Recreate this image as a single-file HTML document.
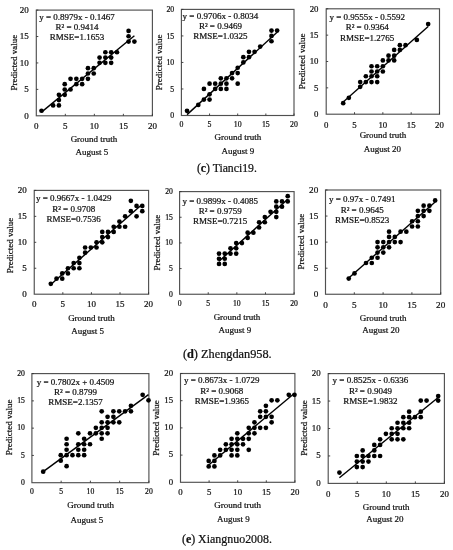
<!DOCTYPE html>
<html><head><meta charset="utf-8"><title>Figure</title>
<style>html,body{margin:0;padding:0;background:#fff}svg{display:block}text{font-family:"Liberation Serif","DejaVu Serif",serif;fill:#111;stroke:#111;stroke-width:.22px}.t{font-size:9px}.e{font-size:9px}.g{font-size:9px}.a{font-size:9px}.c{font-size:12px;fill:#111}.b{font-weight:bold}</style></head><body>
<svg width="453" height="550" viewBox="0 0 453 550">
<rect width="453" height="550" fill="#fff"/>
<g>
<rect x="36.30" y="10.10" width="116.10" height="105.70" fill="none" stroke="#505050" stroke-width="1.15"/>
<path d="M65.33 115.80v-2M36.30 89.38h2M94.35 115.80v-2M36.30 62.95h2M123.38 115.80v-2M36.30 36.52h2M152.40 115.80v-2M36.30 10.10h2" stroke="#333" stroke-width="0.9" fill="none"/>
<text font-size="9" x="28.77" y="118.61" text-anchor="end">0</text><text font-size="9" x="36.30" y="129.22" text-anchor="middle">0</text>
<text font-size="9" x="28.77" y="92.19" text-anchor="end">5</text><text font-size="9" x="65.33" y="129.22" text-anchor="middle">5</text>
<text font-size="9" x="28.77" y="65.76" text-anchor="end">10</text><text font-size="9" x="94.35" y="129.22" text-anchor="middle">10</text>
<text font-size="9" x="28.77" y="39.34" text-anchor="end">15</text><text font-size="9" x="123.38" y="129.22" text-anchor="middle">15</text>
<text font-size="9" x="28.77" y="12.91" text-anchor="end">20</text><text font-size="9" x="152.40" y="129.22" text-anchor="middle">20</text>
<line x1="41.50" y1="112.10" x2="134.39" y2="35.73" stroke="#000" stroke-width="1.4"/>
<g fill="#000"><circle cx="41.50" cy="110.77" r="2.35"/><circle cx="53.12" cy="105.45" r="2.35"/><circle cx="58.92" cy="105.45" r="2.35"/><circle cx="58.92" cy="100.12" r="2.35"/><circle cx="58.92" cy="94.80" r="2.35"/><circle cx="64.73" cy="94.80" r="2.35"/><circle cx="64.73" cy="89.48" r="2.35"/><circle cx="64.73" cy="84.16" r="2.35"/><circle cx="70.53" cy="89.48" r="2.35"/><circle cx="70.53" cy="78.84" r="2.35"/><circle cx="76.34" cy="84.16" r="2.35"/><circle cx="76.34" cy="78.84" r="2.35"/><circle cx="82.14" cy="84.16" r="2.35"/><circle cx="82.14" cy="78.84" r="2.35"/><circle cx="87.95" cy="78.84" r="2.35"/><circle cx="87.95" cy="73.51" r="2.35"/><circle cx="87.95" cy="68.19" r="2.35"/><circle cx="93.75" cy="73.51" r="2.35"/><circle cx="93.75" cy="68.19" r="2.35"/><circle cx="99.56" cy="62.87" r="2.35"/><circle cx="99.56" cy="57.55" r="2.35"/><circle cx="105.36" cy="62.87" r="2.35"/><circle cx="105.36" cy="57.55" r="2.35"/><circle cx="105.36" cy="52.23" r="2.35"/><circle cx="111.17" cy="62.87" r="2.35"/><circle cx="111.17" cy="57.55" r="2.35"/><circle cx="111.17" cy="52.23" r="2.35"/><circle cx="116.97" cy="52.23" r="2.35"/><circle cx="128.58" cy="41.58" r="2.35"/><circle cx="128.58" cy="36.26" r="2.35"/><circle cx="128.58" cy="30.94" r="2.35"/><circle cx="134.39" cy="41.58" r="2.35"/></g>
<text class="e" x="77.00" y="19.70" text-anchor="middle">y = 0.8979x - 0.1467</text><text class="e" x="77.00" y="30.20" text-anchor="middle">R² = 0.9414</text><text class="e" x="77.00" y="40.10" text-anchor="middle">RMSE=1.1653</text>
<text class="g" x="94.00" y="142.30" text-anchor="middle">Ground truth</text><text class="a" x="91.90" y="155.20" text-anchor="middle">August 5</text>
<text class="e" transform="translate(17.00 62.70) rotate(-90)" text-anchor="middle">Predicted value</text>
</g>
<g>
<rect x="181.40" y="9.40" width="112.60" height="106.10" fill="none" stroke="#505050" stroke-width="1.15"/>
<path d="M209.55 115.50v-2M181.40 88.97h2M237.70 115.50v-2M181.40 62.45h2M265.85 115.50v-2M181.40 35.93h2M294.00 115.50v-2M181.40 9.40h2" stroke="#333" stroke-width="0.9" fill="none"/>
<text font-size="7.8" x="174.23" y="118.11" text-anchor="end">0</text><text font-size="7.8" x="181.40" y="127.41" text-anchor="middle">0</text>
<text font-size="7.8" x="174.23" y="91.59" text-anchor="end">5</text><text font-size="7.8" x="209.55" y="127.41" text-anchor="middle">5</text>
<text font-size="7.8" x="174.23" y="65.06" text-anchor="end">10</text><text font-size="7.8" x="237.70" y="127.41" text-anchor="middle">10</text>
<text font-size="7.8" x="174.23" y="38.54" text-anchor="end">15</text><text font-size="7.8" x="265.85" y="127.41" text-anchor="middle">15</text>
<text font-size="7.8" x="174.23" y="12.01" text-anchor="end">20</text><text font-size="7.8" x="294.00" y="127.41" text-anchor="middle">20</text>
<line x1="187.03" y1="114.61" x2="277.11" y2="32.21" stroke="#000" stroke-width="1.4"/>
<g fill="#000"><circle cx="187.03" cy="110.83" r="2.35"/><circle cx="198.29" cy="104.89" r="2.35"/><circle cx="203.92" cy="99.59" r="2.35"/><circle cx="203.92" cy="88.97" r="2.35"/><circle cx="209.55" cy="99.59" r="2.35"/><circle cx="209.55" cy="94.28" r="2.35"/><circle cx="209.55" cy="83.67" r="2.35"/><circle cx="215.18" cy="88.97" r="2.35"/><circle cx="215.18" cy="83.67" r="2.35"/><circle cx="220.81" cy="88.97" r="2.35"/><circle cx="220.81" cy="83.67" r="2.35"/><circle cx="220.81" cy="78.37" r="2.35"/><circle cx="226.44" cy="88.97" r="2.35"/><circle cx="226.44" cy="83.67" r="2.35"/><circle cx="226.44" cy="78.37" r="2.35"/><circle cx="232.07" cy="78.37" r="2.35"/><circle cx="232.07" cy="73.06" r="2.35"/><circle cx="237.70" cy="83.67" r="2.35"/><circle cx="237.70" cy="73.06" r="2.35"/><circle cx="237.70" cy="67.75" r="2.35"/><circle cx="243.33" cy="62.45" r="2.35"/><circle cx="243.33" cy="57.15" r="2.35"/><circle cx="248.96" cy="57.15" r="2.35"/><circle cx="248.96" cy="51.84" r="2.35"/><circle cx="254.59" cy="51.84" r="2.35"/><circle cx="260.22" cy="46.53" r="2.35"/><circle cx="271.48" cy="41.23" r="2.35"/><circle cx="271.48" cy="35.93" r="2.35"/><circle cx="271.48" cy="30.62" r="2.35"/><circle cx="277.11" cy="30.62" r="2.35"/></g>
<text class="e" x="220.40" y="19.10" text-anchor="middle">y = 0.9706x - 0.8034</text><text class="e" x="220.40" y="28.90" text-anchor="middle">R² = 0.9469</text><text class="e" x="220.40" y="39.40" text-anchor="middle">RMSE=1.0325</text>
<text class="g" x="237.80" y="140.00" text-anchor="middle">Ground truth</text><text class="a" x="238.00" y="154.00" text-anchor="middle">August 9</text>
<text class="e" transform="translate(162.40 62.40) rotate(-90)" text-anchor="middle">Predicted value</text>
</g>
<g>
<rect x="326.20" y="8.80" width="113.30" height="105.40" fill="none" stroke="#505050" stroke-width="1.15"/>
<path d="M354.52 114.20v-2M326.20 87.85h2M382.85 114.20v-2M326.20 61.50h2M411.18 114.20v-2M326.20 35.15h2M439.50 114.20v-2M326.20 8.80h2" stroke="#333" stroke-width="0.9" fill="none"/>
<text font-size="8.8" x="318.46" y="116.95" text-anchor="end">0</text><text font-size="8.8" x="326.20" y="127.65" text-anchor="middle">0</text>
<text font-size="8.8" x="318.46" y="90.60" text-anchor="end">5</text><text font-size="8.8" x="354.52" y="127.65" text-anchor="middle">5</text>
<text font-size="8.8" x="318.46" y="64.25" text-anchor="end">10</text><text font-size="8.8" x="382.85" y="127.65" text-anchor="middle">10</text>
<text font-size="8.8" x="318.46" y="37.90" text-anchor="end">15</text><text font-size="8.8" x="411.18" y="127.65" text-anchor="middle">15</text>
<text font-size="8.8" x="318.46" y="11.55" text-anchor="end">20</text><text font-size="8.8" x="439.50" y="127.65" text-anchor="middle">20</text>
<line x1="343.19" y1="102.08" x2="428.17" y2="26.51" stroke="#000" stroke-width="1.4"/>
<g fill="#000"><circle cx="343.19" cy="103.13" r="2.35"/><circle cx="348.86" cy="97.86" r="2.35"/><circle cx="360.19" cy="86.80" r="2.35"/><circle cx="360.19" cy="82.05" r="2.35"/><circle cx="365.86" cy="82.05" r="2.35"/><circle cx="365.86" cy="76.26" r="2.35"/><circle cx="371.52" cy="82.05" r="2.35"/><circle cx="371.52" cy="76.26" r="2.35"/><circle cx="371.52" cy="71.51" r="2.35"/><circle cx="371.52" cy="66.24" r="2.35"/><circle cx="377.19" cy="82.05" r="2.35"/><circle cx="377.19" cy="76.26" r="2.35"/><circle cx="377.19" cy="71.51" r="2.35"/><circle cx="377.19" cy="66.24" r="2.35"/><circle cx="382.85" cy="71.51" r="2.35"/><circle cx="382.85" cy="66.24" r="2.35"/><circle cx="382.85" cy="60.45" r="2.35"/><circle cx="388.51" cy="60.45" r="2.35"/><circle cx="388.51" cy="55.70" r="2.35"/><circle cx="394.18" cy="60.45" r="2.35"/><circle cx="394.18" cy="55.70" r="2.35"/><circle cx="394.18" cy="49.91" r="2.35"/><circle cx="399.85" cy="49.91" r="2.35"/><circle cx="399.85" cy="45.16" r="2.35"/><circle cx="405.51" cy="45.16" r="2.35"/><circle cx="416.84" cy="39.89" r="2.35"/><circle cx="428.17" cy="24.08" r="2.35"/></g>
<text class="e" x="367.20" y="19.70" text-anchor="middle">y = 0.9555x - 0.5592</text><text class="e" x="367.20" y="30.10" text-anchor="middle">R² = 0.9364</text><text class="e" x="367.20" y="40.60" text-anchor="middle">RMSE=1.2765</text>
<text class="g" x="383.00" y="137.90" text-anchor="middle">Ground truth</text><text class="a" x="382.30" y="152.20" text-anchor="middle">August 20</text>
<text class="e" transform="translate(305.40 61.30) rotate(-90)" text-anchor="middle">Predicted value</text>
</g>
<g>
<rect x="34.25" y="190.40" width="114.35" height="103.80" fill="none" stroke="#505050" stroke-width="1.15"/>
<path d="M62.84 294.20v-2M34.25 268.25h2M91.42 294.20v-2M34.25 242.30h2M120.01 294.20v-2M34.25 216.35h2M148.60 294.20v-2M34.25 190.40h2" stroke="#333" stroke-width="0.9" fill="none"/>
<text font-size="9" x="26.77" y="296.91" text-anchor="end">0</text><text font-size="9" x="34.25" y="307.21" text-anchor="middle">0</text>
<text font-size="9" x="26.77" y="270.96" text-anchor="end">5</text><text font-size="9" x="62.84" y="307.21" text-anchor="middle">5</text>
<text font-size="9" x="26.77" y="245.01" text-anchor="end">10</text><text font-size="9" x="91.42" y="307.21" text-anchor="middle">10</text>
<text font-size="9" x="26.77" y="219.06" text-anchor="end">15</text><text font-size="9" x="120.01" y="307.21" text-anchor="middle">15</text>
<text font-size="9" x="26.77" y="193.11" text-anchor="end">20</text><text font-size="9" x="148.60" y="307.21" text-anchor="middle">20</text>
<line x1="50.80" y1="284.56" x2="142.28" y2="204.31" stroke="#000" stroke-width="1.4"/>
<g fill="#000"><circle cx="50.80" cy="283.82" r="2.35"/><circle cx="56.52" cy="278.63" r="2.35"/><circle cx="62.24" cy="278.63" r="2.35"/><circle cx="62.24" cy="273.44" r="2.35"/><circle cx="67.95" cy="273.44" r="2.35"/><circle cx="67.95" cy="268.25" r="2.35"/><circle cx="73.67" cy="268.25" r="2.35"/><circle cx="73.67" cy="263.06" r="2.35"/><circle cx="79.39" cy="268.25" r="2.35"/><circle cx="79.39" cy="263.06" r="2.35"/><circle cx="79.39" cy="257.87" r="2.35"/><circle cx="85.11" cy="252.68" r="2.35"/><circle cx="85.11" cy="247.49" r="2.35"/><circle cx="90.83" cy="247.49" r="2.35"/><circle cx="96.54" cy="247.49" r="2.35"/><circle cx="96.54" cy="242.30" r="2.35"/><circle cx="102.26" cy="242.30" r="2.35"/><circle cx="102.26" cy="237.11" r="2.35"/><circle cx="102.26" cy="231.92" r="2.35"/><circle cx="107.98" cy="237.11" r="2.35"/><circle cx="107.98" cy="231.92" r="2.35"/><circle cx="113.69" cy="231.92" r="2.35"/><circle cx="113.69" cy="226.73" r="2.35"/><circle cx="119.41" cy="226.73" r="2.35"/><circle cx="119.41" cy="221.54" r="2.35"/><circle cx="125.13" cy="226.73" r="2.35"/><circle cx="125.13" cy="216.35" r="2.35"/><circle cx="130.85" cy="211.16" r="2.35"/><circle cx="130.85" cy="200.78" r="2.35"/><circle cx="136.56" cy="216.35" r="2.35"/><circle cx="136.56" cy="205.97" r="2.35"/><circle cx="142.28" cy="211.16" r="2.35"/><circle cx="142.28" cy="205.97" r="2.35"/></g>
<text class="e" x="73.70" y="201.10" text-anchor="middle">y = 0.9667x - 1.0429</text><text class="e" x="73.70" y="211.70" text-anchor="middle">R² = 0.9708</text><text class="e" x="73.70" y="222.00" text-anchor="middle">RMSE=0.7536</text>
<text class="g" x="91.50" y="320.60" text-anchor="middle">Ground truth</text><text class="a" x="87.60" y="333.80" text-anchor="middle">August 5</text>
<text class="e" transform="translate(12.50 245.50) rotate(-90)" text-anchor="middle">Predicted value</text>
</g>
<g>
<rect x="179.60" y="191.60" width="114.50" height="102.65" fill="none" stroke="#505050" stroke-width="1.15"/>
<path d="M208.22 294.25v-2M179.60 268.59h2M236.85 294.25v-2M179.60 242.93h2M265.48 294.25v-2M179.60 217.26h2M294.10 294.25v-2M179.60 191.60h2" stroke="#333" stroke-width="0.9" fill="none"/>
<text font-size="7.7" x="172.83" y="296.73" text-anchor="end">0</text><text font-size="7.7" x="179.60" y="305.93" text-anchor="middle">0</text>
<text font-size="7.7" x="172.83" y="271.07" text-anchor="end">5</text><text font-size="7.7" x="208.22" y="305.93" text-anchor="middle">5</text>
<text font-size="7.7" x="172.83" y="245.40" text-anchor="end">10</text><text font-size="7.7" x="236.85" y="305.93" text-anchor="middle">10</text>
<text font-size="7.7" x="172.83" y="219.74" text-anchor="end">15</text><text font-size="7.7" x="265.48" y="305.93" text-anchor="middle">15</text>
<text font-size="7.7" x="172.83" y="194.08" text-anchor="end">20</text><text font-size="7.7" x="294.10" y="305.93" text-anchor="middle">20</text>
<line x1="219.03" y1="261.26" x2="287.73" y2="199.34" stroke="#000" stroke-width="1.4"/>
<g fill="#000"><circle cx="219.03" cy="263.97" r="2.35"/><circle cx="219.03" cy="258.76" r="2.35"/><circle cx="219.03" cy="253.55" r="2.35"/><circle cx="224.75" cy="263.97" r="2.35"/><circle cx="224.75" cy="258.76" r="2.35"/><circle cx="224.75" cy="253.55" r="2.35"/><circle cx="230.47" cy="253.55" r="2.35"/><circle cx="230.47" cy="248.34" r="2.35"/><circle cx="236.20" cy="253.55" r="2.35"/><circle cx="236.20" cy="248.34" r="2.35"/><circle cx="236.20" cy="243.12" r="2.35"/><circle cx="241.93" cy="243.12" r="2.35"/><circle cx="247.65" cy="237.91" r="2.35"/><circle cx="247.65" cy="232.70" r="2.35"/><circle cx="253.38" cy="232.70" r="2.35"/><circle cx="259.10" cy="227.49" r="2.35"/><circle cx="259.10" cy="222.27" r="2.35"/><circle cx="264.83" cy="222.27" r="2.35"/><circle cx="264.83" cy="217.06" r="2.35"/><circle cx="270.55" cy="211.85" r="2.35"/><circle cx="276.28" cy="217.06" r="2.35"/><circle cx="276.28" cy="211.85" r="2.35"/><circle cx="276.28" cy="206.64" r="2.35"/><circle cx="276.28" cy="201.43" r="2.35"/><circle cx="282.00" cy="206.64" r="2.35"/><circle cx="282.00" cy="201.43" r="2.35"/><circle cx="287.73" cy="201.43" r="2.35"/><circle cx="287.73" cy="196.21" r="2.35"/></g>
<text class="e" x="220.20" y="203.90" text-anchor="middle">y = 0.9899x - 0.4085</text><text class="e" x="220.20" y="213.80" text-anchor="middle">R² = 0.9759</text><text class="e" x="220.20" y="224.40" text-anchor="middle">RMSE=0.7215</text>
<text class="g" x="237.00" y="319.80" text-anchor="middle">Ground truth</text><text class="a" x="234.80" y="333.00" text-anchor="middle">August 9</text>
<text class="e" transform="translate(159.80 242.70) rotate(-90)" text-anchor="middle">Predicted value</text>
</g>
<g>
<rect x="325.50" y="190.00" width="115.20" height="104.25" fill="none" stroke="#505050" stroke-width="1.15"/>
<path d="M354.30 294.25v-2M325.50 268.19h2M383.10 294.25v-2M325.50 242.12h2M411.90 294.25v-2M325.50 216.06h2M440.70 294.25v-2M325.50 190.00h2" stroke="#333" stroke-width="0.9" fill="none"/>
<text font-size="9.2" x="318.28" y="296.83" text-anchor="end">0</text><text font-size="9.2" x="325.50" y="307.53" text-anchor="middle">0</text>
<text font-size="9.2" x="318.28" y="270.77" text-anchor="end">5</text><text font-size="9.2" x="354.30" y="307.53" text-anchor="middle">5</text>
<text font-size="9.2" x="318.28" y="244.71" text-anchor="end">10</text><text font-size="9.2" x="383.10" y="307.53" text-anchor="middle">10</text>
<text font-size="9.2" x="318.28" y="218.64" text-anchor="end">15</text><text font-size="9.2" x="411.90" y="307.53" text-anchor="middle">15</text>
<text font-size="9.2" x="318.28" y="192.58" text-anchor="end">20</text><text font-size="9.2" x="440.70" y="307.53" text-anchor="middle">20</text>
<line x1="348.74" y1="277.93" x2="435.14" y2="202.09" stroke="#000" stroke-width="1.4"/>
<g fill="#000"><circle cx="348.74" cy="278.61" r="2.35"/><circle cx="354.50" cy="273.40" r="2.35"/><circle cx="366.02" cy="262.98" r="2.35"/><circle cx="371.78" cy="262.98" r="2.35"/><circle cx="371.78" cy="257.76" r="2.35"/><circle cx="377.54" cy="257.76" r="2.35"/><circle cx="377.54" cy="252.55" r="2.35"/><circle cx="377.54" cy="247.34" r="2.35"/><circle cx="377.54" cy="242.12" r="2.35"/><circle cx="383.30" cy="252.55" r="2.35"/><circle cx="383.30" cy="247.34" r="2.35"/><circle cx="383.30" cy="242.12" r="2.35"/><circle cx="389.06" cy="247.34" r="2.35"/><circle cx="389.06" cy="242.12" r="2.35"/><circle cx="389.06" cy="236.91" r="2.35"/><circle cx="389.06" cy="231.70" r="2.35"/><circle cx="394.82" cy="242.12" r="2.35"/><circle cx="394.82" cy="236.91" r="2.35"/><circle cx="400.58" cy="242.12" r="2.35"/><circle cx="400.58" cy="231.70" r="2.35"/><circle cx="406.34" cy="231.70" r="2.35"/><circle cx="412.10" cy="226.49" r="2.35"/><circle cx="412.10" cy="221.27" r="2.35"/><circle cx="417.86" cy="226.49" r="2.35"/><circle cx="417.86" cy="221.27" r="2.35"/><circle cx="417.86" cy="216.06" r="2.35"/><circle cx="417.86" cy="210.85" r="2.35"/><circle cx="423.62" cy="216.06" r="2.35"/><circle cx="423.62" cy="210.85" r="2.35"/><circle cx="423.62" cy="205.64" r="2.35"/><circle cx="429.38" cy="210.85" r="2.35"/><circle cx="429.38" cy="205.64" r="2.35"/><circle cx="435.14" cy="200.43" r="2.35"/></g>
<text class="e" x="362.20" y="202.20" text-anchor="middle">y = 0.97x - 0.7491</text><text class="e" x="362.20" y="212.50" text-anchor="middle">R² = 0.9645</text><text class="e" x="362.20" y="222.70" text-anchor="middle">RMSE=0.8523</text>
<text class="g" x="383.10" y="320.60" text-anchor="middle">Ground truth</text><text class="a" x="380.80" y="333.00" text-anchor="middle">August 20</text>
<text class="e" transform="translate(303.70 241.60) rotate(-90)" text-anchor="middle">Predicted value</text>
</g>
<g>
<rect x="31.90" y="373.60" width="117.00" height="109.10" fill="none" stroke="#505050" stroke-width="1.15"/>
<path d="M61.15 482.70v-2M31.90 455.43h2M90.40 482.70v-2M31.90 428.15h2M119.65 482.70v-2M31.90 400.88h2M148.90 482.70v-2M31.90 373.60h2" stroke="#333" stroke-width="0.9" fill="none"/>
<text font-size="7.7" x="24.83" y="484.98" text-anchor="end">0</text><text font-size="7.7" x="31.90" y="494.38" text-anchor="middle">0</text>
<text font-size="7.7" x="24.83" y="457.70" text-anchor="end">5</text><text font-size="7.7" x="61.15" y="494.38" text-anchor="middle">5</text>
<text font-size="7.7" x="24.83" y="430.43" text-anchor="end">10</text><text font-size="7.7" x="90.40" y="494.38" text-anchor="middle">10</text>
<text font-size="7.7" x="24.83" y="403.15" text-anchor="end">15</text><text font-size="7.7" x="119.65" y="494.38" text-anchor="middle">15</text>
<text font-size="7.7" x="24.83" y="375.88" text-anchor="end">20</text><text font-size="7.7" x="148.90" y="494.38" text-anchor="middle">20</text>
<line x1="43.20" y1="471.63" x2="148.50" y2="394.59" stroke="#000" stroke-width="1.4"/>
<g fill="#000"><circle cx="43.20" cy="471.69" r="2.35"/><circle cx="60.75" cy="460.71" r="2.35"/><circle cx="60.75" cy="455.22" r="2.35"/><circle cx="66.60" cy="466.20" r="2.35"/><circle cx="66.60" cy="455.22" r="2.35"/><circle cx="66.60" cy="449.74" r="2.35"/><circle cx="66.60" cy="444.25" r="2.35"/><circle cx="66.60" cy="438.76" r="2.35"/><circle cx="72.45" cy="455.22" r="2.35"/><circle cx="78.30" cy="455.22" r="2.35"/><circle cx="78.30" cy="449.74" r="2.35"/><circle cx="78.30" cy="444.25" r="2.35"/><circle cx="78.30" cy="433.28" r="2.35"/><circle cx="84.15" cy="455.22" r="2.35"/><circle cx="84.15" cy="449.74" r="2.35"/><circle cx="84.15" cy="444.25" r="2.35"/><circle cx="84.15" cy="438.76" r="2.35"/><circle cx="90.00" cy="444.25" r="2.35"/><circle cx="90.00" cy="433.28" r="2.35"/><circle cx="95.85" cy="433.28" r="2.35"/><circle cx="95.85" cy="427.79" r="2.35"/><circle cx="101.70" cy="438.76" r="2.35"/><circle cx="101.70" cy="433.28" r="2.35"/><circle cx="101.70" cy="427.79" r="2.35"/><circle cx="101.70" cy="422.30" r="2.35"/><circle cx="101.70" cy="411.33" r="2.35"/><circle cx="107.55" cy="433.28" r="2.35"/><circle cx="107.55" cy="427.79" r="2.35"/><circle cx="107.55" cy="422.30" r="2.35"/><circle cx="107.55" cy="416.82" r="2.35"/><circle cx="113.40" cy="422.30" r="2.35"/><circle cx="113.40" cy="416.82" r="2.35"/><circle cx="113.40" cy="411.33" r="2.35"/><circle cx="119.25" cy="422.30" r="2.35"/><circle cx="119.25" cy="411.33" r="2.35"/><circle cx="125.10" cy="411.33" r="2.35"/><circle cx="130.95" cy="411.33" r="2.35"/><circle cx="130.95" cy="405.84" r="2.35"/><circle cx="142.65" cy="394.87" r="2.35"/><circle cx="148.50" cy="400.35" r="2.35"/></g>
<text class="e" x="75.50" y="384.80" text-anchor="middle">y = 0.7802x + 0.4509</text><text class="e" x="75.50" y="395.00" text-anchor="middle">R² = 0.8799</text><text class="e" x="75.50" y="405.40" text-anchor="middle">RMSE=2.1357</text>
<text class="g" x="90.60" y="507.80" text-anchor="middle">Ground truth</text><text class="a" x="86.90" y="522.60" text-anchor="middle">August 5</text>
<text class="e" transform="translate(12.40 427.40) rotate(-90)" text-anchor="middle">Predicted value</text>
</g>
<g>
<rect x="180.50" y="373.50" width="114.40" height="108.80" fill="none" stroke="#505050" stroke-width="1.15"/>
<path d="M209.10 482.30v-2M180.50 455.10h2M237.70 482.30v-2M180.50 427.90h2M266.30 482.30v-2M180.50 400.70h2M294.90 482.30v-2M180.50 373.50h2" stroke="#333" stroke-width="0.9" fill="none"/>
<text font-size="8.8" x="173.06" y="484.65" text-anchor="end">0</text><text font-size="8.8" x="180.50" y="494.95" text-anchor="middle">0</text>
<text font-size="8.8" x="173.06" y="457.45" text-anchor="end">5</text><text font-size="8.8" x="209.10" y="494.95" text-anchor="middle">5</text>
<text font-size="8.8" x="173.06" y="430.25" text-anchor="end">10</text><text font-size="8.8" x="237.70" y="494.95" text-anchor="middle">10</text>
<text font-size="8.8" x="173.06" y="403.05" text-anchor="end">15</text><text font-size="8.8" x="266.30" y="494.95" text-anchor="middle">15</text>
<text font-size="8.8" x="173.06" y="375.85" text-anchor="end">20</text><text font-size="8.8" x="294.90" y="494.95" text-anchor="middle">20</text>
<line x1="208.70" y1="464.95" x2="294.50" y2="393.33" stroke="#000" stroke-width="1.4"/>
<g fill="#000"><circle cx="208.70" cy="466.39" r="2.35"/><circle cx="208.70" cy="460.88" r="2.35"/><circle cx="214.42" cy="466.39" r="2.35"/><circle cx="214.42" cy="460.88" r="2.35"/><circle cx="214.42" cy="455.38" r="2.35"/><circle cx="220.14" cy="455.38" r="2.35"/><circle cx="220.14" cy="449.87" r="2.35"/><circle cx="225.86" cy="449.87" r="2.35"/><circle cx="225.86" cy="444.37" r="2.35"/><circle cx="231.58" cy="455.38" r="2.35"/><circle cx="231.58" cy="449.87" r="2.35"/><circle cx="231.58" cy="444.37" r="2.35"/><circle cx="231.58" cy="438.86" r="2.35"/><circle cx="237.30" cy="455.38" r="2.35"/><circle cx="237.30" cy="449.87" r="2.35"/><circle cx="237.30" cy="444.37" r="2.35"/><circle cx="237.30" cy="438.86" r="2.35"/><circle cx="237.30" cy="433.36" r="2.35"/><circle cx="243.02" cy="444.37" r="2.35"/><circle cx="243.02" cy="438.86" r="2.35"/><circle cx="248.74" cy="449.87" r="2.35"/><circle cx="248.74" cy="438.86" r="2.35"/><circle cx="248.74" cy="433.36" r="2.35"/><circle cx="248.74" cy="427.85" r="2.35"/><circle cx="254.46" cy="433.36" r="2.35"/><circle cx="254.46" cy="427.85" r="2.35"/><circle cx="254.46" cy="422.35" r="2.35"/><circle cx="260.18" cy="427.85" r="2.35"/><circle cx="260.18" cy="416.84" r="2.35"/><circle cx="260.18" cy="411.34" r="2.35"/><circle cx="265.90" cy="427.85" r="2.35"/><circle cx="265.90" cy="416.84" r="2.35"/><circle cx="265.90" cy="411.34" r="2.35"/><circle cx="265.90" cy="405.83" r="2.35"/><circle cx="271.62" cy="422.35" r="2.35"/><circle cx="271.62" cy="416.84" r="2.35"/><circle cx="271.62" cy="400.32" r="2.35"/><circle cx="277.34" cy="400.32" r="2.35"/><circle cx="288.78" cy="394.82" r="2.35"/><circle cx="294.50" cy="394.82" r="2.35"/></g>
<text class="e" x="221.80" y="382.90" text-anchor="middle">y = 0.8673x - 1.0729</text><text class="e" x="221.80" y="393.50" text-anchor="middle">R² = 0.9068</text><text class="e" x="221.80" y="404.10" text-anchor="middle">RMSE=1.9365</text>
<text class="g" x="237.70" y="508.00" text-anchor="middle">Ground truth</text><text class="a" x="233.40" y="521.90" text-anchor="middle">August 9</text>
<text class="e" transform="translate(159.30 428.00) rotate(-90)" text-anchor="middle">Predicted value</text>
</g>
<g>
<rect x="328.20" y="373.60" width="116.20" height="109.80" fill="none" stroke="#505050" stroke-width="1.15"/>
<path d="M357.25 483.40v-2M328.20 455.95h2M386.30 483.40v-2M328.20 428.50h2M415.35 483.40v-2M328.20 401.05h2M444.40 483.40v-2M328.20 373.60h2" stroke="#333" stroke-width="0.9" fill="none"/>
<text font-size="8.9" x="320.67" y="485.88" text-anchor="end">0</text><text font-size="8.9" x="328.20" y="496.78" text-anchor="middle">0</text>
<text font-size="8.9" x="320.67" y="458.43" text-anchor="end">5</text><text font-size="8.9" x="357.25" y="496.78" text-anchor="middle">5</text>
<text font-size="8.9" x="320.67" y="430.98" text-anchor="end">10</text><text font-size="8.9" x="386.30" y="496.78" text-anchor="middle">10</text>
<text font-size="8.9" x="320.67" y="403.53" text-anchor="end">15</text><text font-size="8.9" x="415.35" y="496.78" text-anchor="middle">15</text>
<text font-size="8.9" x="320.67" y="376.08" text-anchor="end">20</text><text font-size="8.9" x="444.40" y="496.78" text-anchor="middle">20</text>
<line x1="339.42" y1="477.78" x2="438.19" y2="397.45" stroke="#000" stroke-width="1.4"/>
<g fill="#000"><circle cx="339.42" cy="472.62" r="2.35"/><circle cx="356.85" cy="467.08" r="2.35"/><circle cx="356.85" cy="461.53" r="2.35"/><circle cx="356.85" cy="455.99" r="2.35"/><circle cx="362.66" cy="467.08" r="2.35"/><circle cx="362.66" cy="461.53" r="2.35"/><circle cx="362.66" cy="455.99" r="2.35"/><circle cx="362.66" cy="450.45" r="2.35"/><circle cx="368.47" cy="461.53" r="2.35"/><circle cx="368.47" cy="455.99" r="2.35"/><circle cx="374.28" cy="455.99" r="2.35"/><circle cx="374.28" cy="450.45" r="2.35"/><circle cx="374.28" cy="444.90" r="2.35"/><circle cx="380.09" cy="455.99" r="2.35"/><circle cx="380.09" cy="444.90" r="2.35"/><circle cx="380.09" cy="439.36" r="2.35"/><circle cx="385.90" cy="433.81" r="2.35"/><circle cx="391.71" cy="439.36" r="2.35"/><circle cx="391.71" cy="433.81" r="2.35"/><circle cx="391.71" cy="428.27" r="2.35"/><circle cx="397.52" cy="439.36" r="2.35"/><circle cx="397.52" cy="433.81" r="2.35"/><circle cx="397.52" cy="428.27" r="2.35"/><circle cx="397.52" cy="422.73" r="2.35"/><circle cx="403.33" cy="439.36" r="2.35"/><circle cx="403.33" cy="428.27" r="2.35"/><circle cx="403.33" cy="422.73" r="2.35"/><circle cx="403.33" cy="417.18" r="2.35"/><circle cx="409.14" cy="428.27" r="2.35"/><circle cx="409.14" cy="422.73" r="2.35"/><circle cx="409.14" cy="417.18" r="2.35"/><circle cx="409.14" cy="411.64" r="2.35"/><circle cx="414.95" cy="417.18" r="2.35"/><circle cx="420.76" cy="417.18" r="2.35"/><circle cx="420.76" cy="411.64" r="2.35"/><circle cx="420.76" cy="400.55" r="2.35"/><circle cx="426.57" cy="400.55" r="2.35"/><circle cx="438.19" cy="400.55" r="2.35"/><circle cx="438.19" cy="396.11" r="2.35"/></g>
<text class="e" x="370.40" y="383.40" text-anchor="middle">y = 0.8525x - 0.6336</text><text class="e" x="370.40" y="393.90" text-anchor="middle">R² = 0.9049</text><text class="e" x="370.40" y="403.90" text-anchor="middle">RMSE=1.9832</text>
<text class="g" x="386.20" y="509.80" text-anchor="middle">Ground truth</text><text class="a" x="385.00" y="521.50" text-anchor="middle">August 20</text>
<text class="e" transform="translate(306.80 428.00) rotate(-90)" text-anchor="middle">Predicted value</text>
</g>
<text class="c" x="196.90" y="172.30" textLength="60" lengthAdjust="spacingAndGlyphs">(<tspan class="b">c</tspan>) Tianci19.</text>
<text class="c" x="182.90" y="357.60" textLength="88.8" lengthAdjust="spacingAndGlyphs">(<tspan class="b">d</tspan>) Zhengdan958.</text>
<text class="c" x="181.90" y="543.00" textLength="90.1" lengthAdjust="spacingAndGlyphs">(<tspan class="b">e</tspan>) Xiangnuo2008.</text>
</svg>
</body></html>
